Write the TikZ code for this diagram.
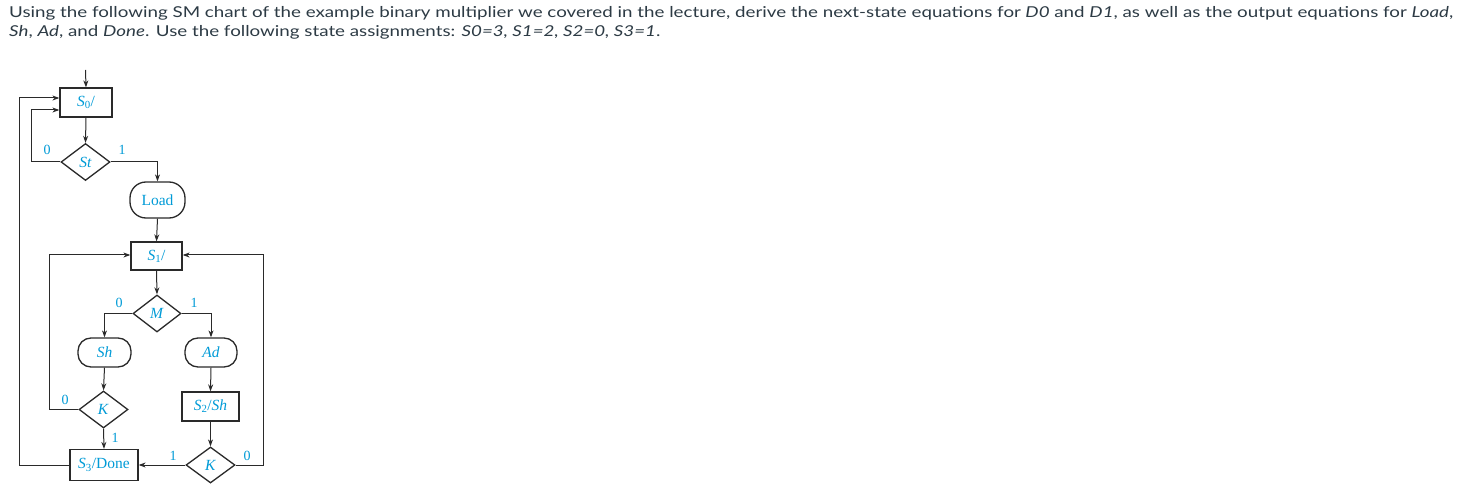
\documentclass[tikz,border=0pt]{standalone}
\usepackage{fontspec}
\setmainfont{Liberation Serif}
\newfontfamily\hdrfont[FakeStretch=1.25]{Lato}
\usetikzlibrary{shapes.geometric,arrows.meta}
\definecolor{hdr}{HTML}{2D3B45}
\definecolor{lbl}{RGB}{0,155,215}
\definecolor{ln}{HTML}{2A2A2A}
\newcommand{\stname}[1]{\textit{S}\textsubscript{#1}}
\begin{document}
\begin{tikzpicture}[x=1pt,y=-1pt,
  hdrtext/.style={anchor=base west,inner sep=0,text=hdr,font=\hdrfont\fontsize{15}{19}\selectfont},
  chart/.style={text=lbl,font=\fontsize{15.5}{17}\selectfont,inner sep=0},
  statebox/.style={chart,draw=ln,line width=1.3pt,rectangle},
  condbox/.style={chart,draw=ln,line width=1.3pt,diamond},
  outbox/.style={chart,draw=ln,line width=1.3pt,rectangle,rounded corners=13pt},
  wire/.style={draw=ln,line width=1pt},
  arr/.style={wire,-{Stealth[length=7pt,width=5pt]}},
  blabel/.style={text=lbl,font=\fontsize{14}{16}\selectfont,inner sep=0}
]
\useasboundingbox (0,0) rectangle (1462,497);
\fill[white] (0,0) rectangle (1462,497);

\node[hdrtext] (h1) at (9,17.5) {Using the following SM chart of the example binary multiplier we covered in the lecture, derive the next-state equations for \textit{D0} and \textit{D1}, as well as the output equations for \textit{Load},};
\node[hdrtext] (h2) at (9,36.5) {\textit{Sh}, \textit{Ad}, and \textit{Done}. Use the following state assignments: \textit{S0=3, S1=2, S2=0, S3=1}.};

% nodes
\node[statebox,minimum width=52pt,minimum height=29pt] (s0) at (86,102.5) {\stname{0}/};
\node[condbox,minimum width=49pt,minimum height=37pt] (st) at (85.5,162) {\textit{St}};
\node[outbox,minimum width=55pt,minimum height=36pt,rounded corners=16pt] (load) at (157.5,200) {Load};
\node[statebox,minimum width=51pt,minimum height=28pt] (s1) at (156.5,256) {\stname{1}/};
\node[condbox,minimum width=48pt,minimum height=37pt] (m) at (157,313.5) {\textit{M}};
\node[outbox,minimum width=53pt,minimum height=29pt] (sh) at (104.5,352.5) {\textit{Sh}};
\node[outbox,minimum width=52pt,minimum height=29pt] (ad) at (211,352.5) {\textit{Ad}};
\node[condbox,minimum width=49pt,minimum height=37pt] (k1) at (103.5,409.5) {\textit{K}};
\node[statebox,minimum width=57pt,minimum height=29pt] (s2) at (210.5,406.5) {\stname{2}/\textit{Sh}};
\node[statebox,minimum width=68pt,minimum height=31pt] (s3) at (104,465) {\stname{3}/Done};
\node[condbox,minimum width=49pt,minimum height=36pt] (k2) at (210.5,465) {\textit{K}};

\coordinate (entry) at (85.5,70);

% connectors
\draw[arr] (entry) -- (s0.north);
\draw[arr] (s0.south) -- (st.north);
\draw[arr] (st.west) -- ++(-29,0) |- ([yshift=-7.5pt]s0.west);
\draw[arr] (s3.west) -- ++(-50,0) |- ([yshift=4.5pt]s0.west);
\draw[arr] (st.east) -| (load.north);
\draw[arr] (load.south) -- (s1.north);
\draw[arr] (s1.south) -- (m.north);
\draw[arr] (m.west) -| (sh.north);
\draw[arr] (m.east) -| (ad.north);
\draw[arr] (sh.south) -- (k1.north);
\draw[arr] (k1.west) -- ++(-29,0) |- ([yshift=1pt]s1.west);
\draw[arr] (k1.south) -- (s3.north);
\draw[arr] (ad.south) -- (s2.north);
\draw[arr] (s2.south) -- (k2.north);
\draw[arr] (k2.west) -- (s3.east);
\draw[arr] (k2.east) -- ++(28,0) |- ([yshift=1pt]s1.east);

% branch labels
\node[blabel] (l1) at (47,150) {0};
\node[blabel] (l2) at (122,150) {1};
\node[blabel] (l3) at (119,303) {0};
\node[blabel] (l4) at (194,303) {1};
\node[blabel] (l5) at (65,400) {0};
\node[blabel] (l6) at (115,438) {1};
\node[blabel] (l7) at (173,456) {1};
\node[blabel] (l8) at (247,456) {0};
\end{tikzpicture}
\end{document}
